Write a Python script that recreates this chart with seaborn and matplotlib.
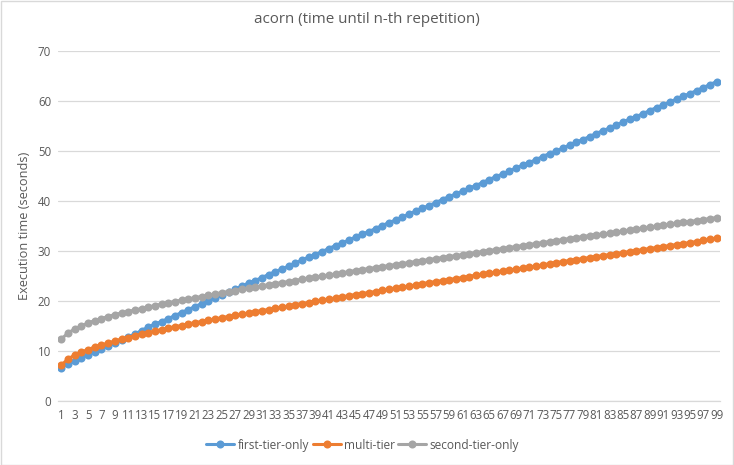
import numpy as np
import pandas as pd
import seaborn as sns
import matplotlib
matplotlib.use("Agg")
import matplotlib.pyplot as plt
from matplotlib.patches import Rectangle

# 数据: 第 n 次重复为止的执行时间 (秒), 从图上读出来的
repetition = list(range(1, 100))

first_tier_only = [
    6.7, 7.4, 8.0, 8.6, 9.3, 9.8, 10.4, 11.0, 11.6, 12.2,
    12.8, 13.4, 14.1, 14.8, 15.4, 15.9, 16.5, 17.1, 17.7, 18.3,
    18.9, 19.5, 20.1, 20.6, 21.2, 21.8, 22.4, 23.0, 23.6, 24.1,
    24.7, 25.3, 25.9, 26.4, 27.0, 27.6, 28.2, 28.8, 29.3, 29.9,
    30.5, 31.1, 31.6, 32.2, 32.8, 33.4, 33.9, 34.5, 35.1, 35.7,
    36.2, 36.8, 37.4, 38.0, 38.6, 39.1, 39.7, 40.3, 40.9, 41.4,
    42.0, 42.6, 43.1, 43.7, 44.3, 44.9, 45.4, 46.0, 46.6, 47.2,
    47.7, 48.3, 48.9, 49.5, 50.0, 50.6, 51.2, 51.8, 52.3, 52.9,
    53.5, 54.1, 54.6, 55.2, 55.8, 56.4, 56.9, 57.5, 58.1, 58.7,
    59.2, 59.8, 60.4, 61.0, 61.5, 62.1, 62.7, 63.3, 63.9,
]

multi_tier = [
    7.2, 8.4, 9.2, 9.8, 10.3, 10.8, 11.2, 11.6, 12.0, 12.4,
    12.7, 13.1, 13.4, 13.7, 14.0, 14.3, 14.6, 14.9, 15.1, 15.4,
    15.7, 15.9, 16.2, 16.4, 16.7, 16.9, 17.2, 17.4, 17.6, 17.9,
    18.1, 18.3, 18.6, 18.8, 19.0, 19.3, 19.5, 19.7, 20.0, 20.2,
    20.4, 20.6, 20.8, 21.1, 21.3, 21.5, 21.7, 21.9, 22.2, 22.4,
    22.6, 22.8, 23.0, 23.2, 23.5, 23.7, 23.9, 24.1, 24.3, 24.5,
    24.7, 24.9, 25.2, 25.4, 25.6, 25.8, 26.0, 26.2, 26.4, 26.6,
    26.8, 27.0, 27.2, 27.5, 27.7, 27.9, 28.1, 28.3, 28.5, 28.7,
    28.9, 29.1, 29.3, 29.5, 29.7, 29.9, 30.1, 30.3, 30.5, 30.7,
    30.9, 31.1, 31.3, 31.5, 31.7, 31.9, 32.2, 32.4, 32.6,
]

second_tier_only = [
    12.4, 13.6, 14.4, 15.0, 15.6, 16.1, 16.5, 16.9, 17.3, 17.6,
    17.9, 18.2, 18.5, 18.8, 19.1, 19.4, 19.7, 19.9, 20.2, 20.4,
    20.7, 20.9, 21.2, 21.4, 21.7, 21.9, 22.1, 22.4, 22.6, 22.8,
    23.0, 23.3, 23.5, 23.7, 23.9, 24.1, 24.4, 24.6, 24.8, 25.0,
    25.2, 25.4, 25.6, 25.9, 26.1, 26.3, 26.5, 26.7, 26.9, 27.1,
    27.3, 27.5, 27.7, 27.9, 28.1, 28.3, 28.5, 28.7, 28.9, 29.1,
    29.3, 29.5, 29.7, 29.9, 30.1, 30.3, 30.5, 30.7, 30.9, 31.1,
    31.3, 31.5, 31.7, 31.9, 32.1, 32.3, 32.5, 32.7, 32.9, 33.1,
    33.3, 33.4, 33.6, 33.8, 34.0, 34.2, 34.4, 34.6, 34.8, 35.0,
    35.2, 35.4, 35.6, 35.8, 35.9, 36.1, 36.3, 36.5, 36.7,
]

series_names = ["first-tier-only", "multi-tier", "second-tier-only"]
colors = ["#5B9BD5", "#ED7D31", "#A5A5A5"]
y_ticks = [0, 10, 20, 30, 40, 50, 60, 70]

# 拼成长表给 seaborn 用
df = pd.DataFrame({
    "n": repetition * 3,
    "time": first_tier_only + multi_tier + second_tier_only,
    "series": [s for s in series_names for _ in repetition],
})

sns.set_theme(style="white")
plt.rcParams["font.family"] = ["Open Sans", "DejaVu Sans"]
text_color = "#595959"
grid_color = "#D9D9D9"

fig = plt.figure(figsize=(7.34, 4.65), dpi=100)
ax = fig.add_axes([0.079, 0.1376, 0.902, 0.7527])

sns.lineplot(data=df, x="n", y="time", hue="series", hue_order=series_names,
             palette=colors, marker="o", markersize=5.8, markeredgewidth=0,
             linewidth=2.2, legend=False, ax=ax)

ax.set_xlim(0.5, 99.5)
ax.set_ylim(0, 70)
ax.set_yticks(y_ticks)
ax.set_xticks(repetition[::2])
ax.set_xticklabels([str(v) for v in repetition[::2]])
ax.tick_params(axis="both", length=0, labelsize=8.3, colors=text_color)
ax.tick_params(axis="x", pad=6)
ax.tick_params(axis="y", pad=5)
ax.grid(axis="y", color=grid_color, linewidth=0.9)
ax.set_axisbelow(True)
for side in ["left", "right", "top"]:
    ax.spines[side].set_visible(False)
ax.spines["bottom"].set_color(grid_color)
ax.spines["bottom"].set_linewidth(0.9)

ax.set_xlabel("")
ax.set_ylabel("Execution time (seconds)", fontsize=9.2, color=text_color, labelpad=5)
fig.suptitle("acorn (time until n-th repetition)", x=0.5, y=0.975,
             fontsize=10.9, color=text_color)

handles = ax.get_lines()[:3]
fig.legend(handles, series_names, loc="center", bbox_to_anchor=(0.494, 0.043),
           ncol=3, frameon=False, fontsize=8.6, labelcolor=text_color,
           handlelength=2.35, handletextpad=0.25, columnspacing=0.3)

# 外框
fig.patches.append(Rectangle((0.001, 0.001), 0.997, 0.997, transform=fig.transFigure,
                             fill=False, edgecolor="#D9D9D9", linewidth=1))

fig.savefig("out.png", dpi=100)
